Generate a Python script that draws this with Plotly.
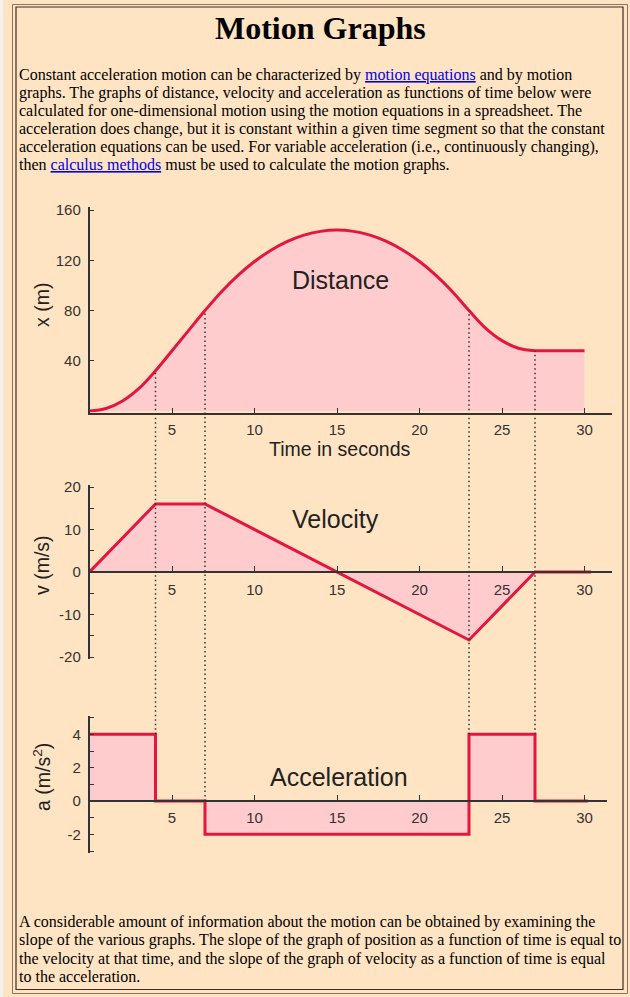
import plotly.graph_objects as go

# ---------------------------
# Datos
# ---------------------------
tiempo_x = list(range(0, 31))
distancia = [0, 2, 8, 18, 32, 48, 64, 80, 95, 108, 119, 128, 135, 140, 143, 144,
             143, 140, 135, 128, 119, 108, 95, 80, 66, 56, 50, 48, 48, 48, 48]

tiempo_v = [0, 4, 7, 15, 23, 27, 30.4]
velocidad = [0, 16, 16, 0, -16, 0, 0]

tiempo_a = [0, 4, 7, 23, 27, 30.2]
aceleracion = [4, 0, -2, 4, 0, 0]

# instantes donde cambia la aceleración (líneas punteadas)
tiempos_cambio = [4, 7, 23, 27]
distancia_cambio = [32, 80, 80, 48]
aceleracion_cambio = [4, 0, 4, 4]

ticks_tiempo = [5, 10, 15, 20, 25, 30]
ticks_distancia = [40, 80, 120, 160]
ticks_velocidad = [-20, -15, -10, -5, 0, 5, 10, 15, 20]
etiquetas_velocidad = ["-20", " ", "-10", " ", "0", " ", "10", " ", "20"]
ticks_aceleracion = [-3, -2, -1, 0, 1, 2, 3, 4, 5]
etiquetas_aceleracion = [" ", "-2", " ", "0", " ", "2", " ", "4", " "]

titulo = "Motion Graphs"
enlace = '<span style="color:#0000EE;text-decoration:underline">%s</span>'
parrafo_1 = [
    "Constant acceleration motion can be characterized by " + enlace % "motion equations" + " and by motion",
    "graphs. The graphs of distance, velocity and acceleration as functions of time below were",
    "calculated for one-dimensional motion using the motion equations in a spreadsheet. The",
    "acceleration does change, but it is constant within a given time segment so that the constant",
    "acceleration equations can be used. For variable acceleration (i.e., continuously changing),",
    "then " + enlace % "calculus methods" + " must be used to calculate the motion graphs.",
]
parrafo_2 = [
    "A considerable amount of information about the motion can be obtained by examining the",
    "slope of the various graphs. The slope of the graph of position as a function of time is equal to",
    "the velocity at that time, and the slope of the graph of velocity as a function of time is equal",
    "to the acceleration.",
]

# ---------------------------
# Geometría de la página (px)
# ---------------------------
W, H = 630, 997
ROJO = "#E3173E"
ROSA = "rgb(255,204,206)"
FONDO = "#FFE4C4"
EJE = "#333333"


def px_x(p):
    return p / W


def px_y(p):
    return 1 - p / H


def a_papel(valor, dominio, rango):
    """Convierte un valor de datos a fracción del papel según dominio y rango del eje."""
    return dominio[0] + (valor - rango[0]) / (rango[1] - rango[0]) * (dominio[1] - dominio[0])


dom_x = [px_x(89.5), px_x(612)]
dom_x_acc = [px_x(89.5), px_x(607)]
rng_x = [0, (612 - 89.5) / 16.5]
rng_x_acc = [0, (607 - 89.5) / 16.5]

dom_dist = [px_y(412.5), px_y(207)]
rng_dist = [-1.2, 162.4]
dom_vel = [px_y(658.7), px_y(485.3)]
rng_vel = [-20.4, 20.4]
dom_acc = [px_y(852.7), px_y(716)]
rng_acc = [-3.1, 5.1]

fig = go.Figure()

fig.add_trace(go.Scatter(x=tiempo_x, y=distancia, mode="lines", line=dict(color=ROJO, width=3, shape="spline"),
                         fill="tozeroy", fillcolor=ROSA, xaxis="x", yaxis="y", hoverinfo="skip"))
fig.add_trace(go.Scatter(x=tiempo_v, y=velocidad, mode="lines", line=dict(color=ROJO, width=3),
                         fill="tozeroy", fillcolor=ROSA, xaxis="x2", yaxis="y2", hoverinfo="skip"))
fig.add_trace(go.Scatter(x=tiempo_a, y=aceleracion, mode="lines", line=dict(color=ROJO, width=3, shape="hv"),
                         fill="tozeroy", fillcolor=ROSA, xaxis="x3", yaxis="y3", hoverinfo="skip"))

# líneas punteadas verticales que unen las tres gráficas
for t, xd, ac in zip(tiempos_cambio, distancia_cambio, aceleracion_cambio):
    fig.add_shape(type="line", xref="x", yref="paper", x0=t, x1=t,
                  y0=a_papel(ac, dom_acc, rng_acc), y1=a_papel(xd, dom_dist, rng_dist),
                  line=dict(color="#333", width=1.5, dash="1.5px,3px"), layer="above")

ejes_comunes = dict(showgrid=False, zeroline=False, showline=True, linecolor=EJE, linewidth=1.5,
                    ticks="inside", ticklen=5, tickwidth=1.3, tickcolor=EJE,
                    tickfont=dict(family="Liberation Sans", size=15, color="#333"))

fig.update_layout(
    width=W, height=H, autosize=False,
    margin=dict(l=0, r=0, t=0, b=0),
    template="none",
    paper_bgcolor=FONDO, plot_bgcolor="rgba(0,0,0,0)",
    showlegend=False,
    xaxis=dict(domain=dom_x, range=rng_x, anchor="y", tickvals=ticks_tiempo, ticklabelstandoff=3,
               **ejes_comunes),
    yaxis=dict(domain=dom_dist, range=rng_dist, anchor="x", tickvals=ticks_distancia, ticklabelstandoff=4,
               **ejes_comunes),
    xaxis2=dict(domain=dom_x, range=rng_x, anchor="free", position=a_papel(0, dom_vel, rng_vel),
                tickvals=ticks_tiempo, ticklabelstandoff=4, **ejes_comunes),
    yaxis2=dict(domain=dom_vel, range=rng_vel, anchor="x2", tickvals=ticks_velocidad,
                ticktext=etiquetas_velocidad, ticklabelstandoff=4, **ejes_comunes),
    xaxis3=dict(domain=dom_x_acc, range=rng_x_acc, anchor="free", position=a_papel(0, dom_acc, rng_acc),
                tickvals=ticks_tiempo, ticklabelstandoff=3, **ejes_comunes),
    yaxis3=dict(domain=dom_acc, range=rng_acc, anchor="x3", tickvals=ticks_aceleracion,
                ticktext=etiquetas_aceleracion, ticklabelstandoff=4, **ejes_comunes),
)

# bordes de la tabla html
fig.add_shape(type="rect", xref="paper", yref="paper", x0=0, x1=px_x(3), y0=0, y1=1,
              fillcolor="#F4F2EF", line=dict(width=0), layer="below")
fig.add_shape(type="rect", xref="paper", yref="paper", x0=px_x(12.5), x1=px_x(627.5), y0=px_y(993.5), y1=px_y(4.5),
              line=dict(color="#8A7565", width=1), layer="below")
fig.add_shape(type="rect", xref="paper", yref="paper", x0=px_x(16), x1=px_x(623), y0=px_y(989.5), y1=px_y(7),
              line=dict(color="#3E2C22", width=1.2), layer="below")

anot = []
anot.append(dict(text="<b>" + titulo + "</b>", x=px_x(320), y=px_y(28), xref="paper", yref="paper",
                 xanchor="center", yanchor="middle", showarrow=False,
                 font=dict(family="Liberation Serif", size=32, color="#000")))
for i, linea in enumerate(parrafo_1):
    anot.append(dict(text=linea, x=px_x(17), y=px_y(75 + 18.1 * i), xref="paper", yref="paper",
                     xanchor="left", yanchor="middle", showarrow=False,
                     font=dict(family="Liberation Serif", size=16, color="#000")))
for i, linea in enumerate(parrafo_2):
    anot.append(dict(text=linea, x=px_x(17), y=px_y(922 + 18.3 * i), xref="paper", yref="paper",
                     xanchor="left", yanchor="middle", showarrow=False,
                     font=dict(family="Liberation Serif", size=16, color="#000")))

# rótulos de cada gráfica
fuente_rotulo = dict(family="Liberation Sans", size=25, color="#222")
anot.append(dict(text="Distance", x=15.2, y=104, xref="x", yref="y", showarrow=False, font=fuente_rotulo))
anot.append(dict(text="Velocity", x=14.9, y=12.5, xref="x2", yref="y2", showarrow=False, font=fuente_rotulo))
anot.append(dict(text="Acceleration", x=15.1, y=1.45, xref="x3", yref="y3", showarrow=False, font=fuente_rotulo))

# títulos de ejes
fuente_eje = dict(family="Liberation Sans", size=19.5, color="#222")
anot.append(dict(text="Time in seconds", x=15.2, y=px_y(449), xref="x", yref="paper", showarrow=False,
                 xanchor="center", yanchor="middle", font=fuente_eje))
for texto, centro in [("x (m)", 305), ("v (m/s)", 565), ("a (m/s<sup>2</sup>)", 777)]:
    anot.append(dict(text=texto, x=px_x(42), y=px_y(centro), xref="paper", yref="paper", textangle=-90,
                     xanchor="center", yanchor="middle", showarrow=False, font=fuente_eje))

fig.update_layout(annotations=anot)

fig.write_html("out.html", config={"displayModeBar": False},
               post_script="document.body.style.margin='0';")
